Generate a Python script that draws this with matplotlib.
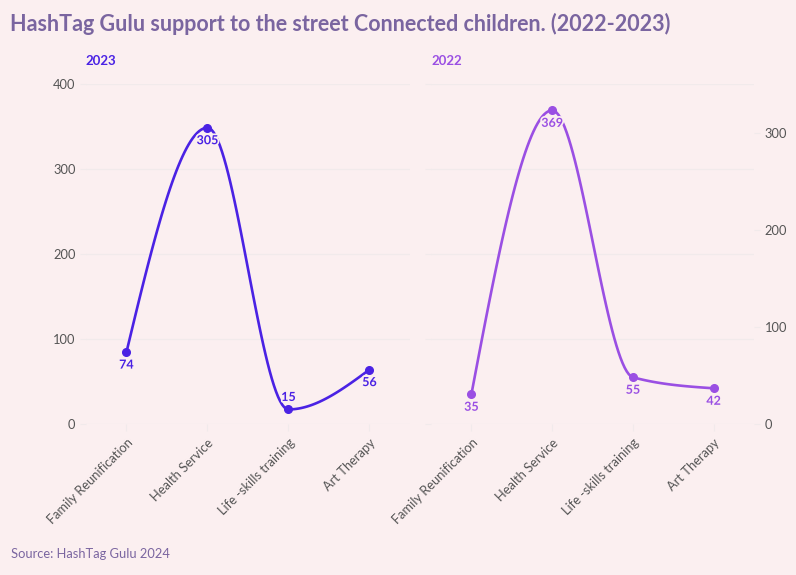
import numpy as np
import matplotlib
matplotlib.use("Agg")
import matplotlib.pyplot as plt
import matplotlib.patheffects as pe

categories = ["Family Reunification", "Health Service", "Life -skills training", "Art Therapy"]
values_2023 = [74, 305, 15, 56]
values_2022 = [35, 369, 55, 42]
label_above_2023 = [False, False, True, False]
label_above_2022 = [False, False, False, False]
ticks_400 = [0, 100, 200, 300, 400]
ticks_350 = [0, 100, 200, 300]

BG = "#fbeff0"
GRID = "#f1eaeb"
TXT = "#555555"
C23 = "#4a22e4"
C22 = "#9a4fe3"
TITLE = "#7a65a0"

plt.rcParams['font.family'] = ['Lato', 'DejaVu Sans']


def monotone(xs, ys, n=40):
    # monotone cubic (steffen-style slopes), same idea as d3 curveMonotoneX
    xs = np.asarray(xs, float)
    ys = np.asarray(ys, float)
    k = len(xs)
    t = np.zeros(k)
    for i in range(1, k - 1):
        h0, h1 = xs[i] - xs[i - 1], xs[i + 1] - xs[i]
        s0, s1 = (ys[i] - ys[i - 1]) / h0, (ys[i + 1] - ys[i]) / h1
        p = (s0 * h1 + s1 * h0) / (h0 + h1)
        t[i] = (np.sign(s0) + np.sign(s1)) * min(abs(s0), abs(s1), 0.5 * abs(p))
    t[0] = (3 * (ys[1] - ys[0]) / (xs[1] - xs[0]) - t[1]) / 2
    t[-1] = (3 * (ys[-1] - ys[-2]) / (xs[-1] - xs[-2]) - t[-2]) / 2
    outx, outy = [], []
    u = np.linspace(0, 1, n)
    for i in range(k - 1):
        dx = (xs[i + 1] - xs[i]) / 3
        px = [xs[i], xs[i] + dx, xs[i + 1] - dx, xs[i + 1]]
        py = [ys[i], ys[i] + dx * t[i], ys[i + 1] - dx * t[i + 1], ys[i + 1]]
        b = [(1 - u) ** 3, 3 * u * (1 - u) ** 2, 3 * u ** 2 * (1 - u), u ** 3]
        outx.extend(sum(bj * pj for bj, pj in zip(b, px)))
        outy.extend(sum(bj * pj for bj, pj in zip(b, py)))
    return outx, outy


def base_axes(rect):
    ax = fig.add_axes(rect)
    ax.set_facecolor("none")
    for s in ax.spines.values():
        s.set_visible(False)
    ax.set_xlim(-0.5, len(categories) - 0.5)
    ax.set_ylim(0, 400)
    ax.set_yticks(ticks_400)
    ax.grid(axis="y", color=GRID, linewidth=1)
    ax.set_axisbelow(True)
    ax.set_xticks(range(len(categories)))
    ax.set_xticklabels(categories, rotation=45, ha="right", rotation_mode="anchor",
                       fontsize=9.3, color=TXT)
    ax.tick_params(axis="x", length=5, color=GRID, pad=4)
    ax.tick_params(axis="y", length=4, color=GRID, labelsize=9.3, labelcolor=TXT)
    return ax


def draw_series(ax, vals, color, above):
    x = np.arange(len(vals))
    cx, cy = monotone(x, vals)
    ax.plot(cx, cy, color=color, linewidth=1.9, solid_capstyle="round", zorder=3)
    ax.plot(x, vals, "o", color=color, markersize=5.5, zorder=4)
    for xi, v, up in zip(x, vals, above):
        ax.annotate(str(v), (xi, v), xytext=(0, 9 if up else -9), textcoords="offset points",
                    ha="center", va="center", fontsize=9, fontweight="bold", color=color,
                    zorder=5, path_effects=[pe.withStroke(linewidth=2.5, foreground=BG)])


fig = plt.figure(figsize=(7.96, 5.75), dpi=100, facecolor=BG)

# left panel: 2023
ax1 = base_axes([0.108, 0.2626, 0.407, 0.5913])
ax1d = ax1.twinx()
ax1d.set_ylim(0, 350)
ax1d.axis("off")
draw_series(ax1d, values_2023, C23, label_above_2023)

# right panel: 2022
ax2 = base_axes([0.5415, 0.2626, 0.4058, 0.5913])
ax2.tick_params(axis="y", left=False, labelleft=False)
draw_series(ax2, values_2022, C22, label_above_2022)
ax2r = ax2.twinx()
ax2r.set_ylim(0, 350)
ax2r.set_yticks(ticks_350)
for s in ax2r.spines.values():
    s.set_visible(False)
ax2r.tick_params(axis="y", length=4, color=GRID, labelsize=9.3, labelcolor=TXT)

fig.text(0.0126, 0.958, "HashTag Gulu support to the street Connected children. (2022-2023)",
         fontsize=15.5, fontweight="bold", color=TITLE, va="center", ha="left")
fig.text(0.108, 0.894, "2023", fontsize=9.5, fontweight="bold", color=C23, va="center")
fig.text(0.5415, 0.894, "2022", fontsize=9.5, fontweight="bold", color=C22, va="center")
fig.text(0.0138, 0.036, "Source: HashTag Gulu 2024", fontsize=9.3, color=TITLE, va="center")

fig.savefig("out.png", dpi=100, facecolor=BG)
